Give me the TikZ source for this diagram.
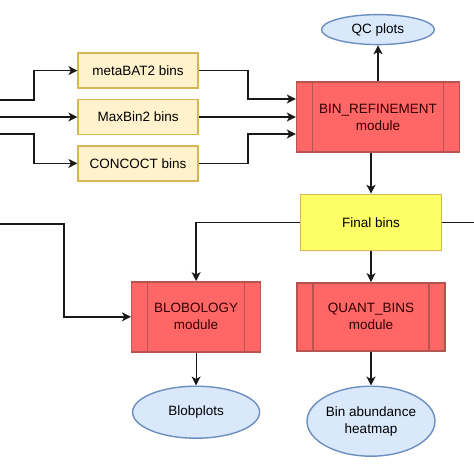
\documentclass[tikz,border=0pt]{standalone}
\usepackage{fontspec}
\setmainfont{Liberation Sans}
\usetikzlibrary{positioning, shapes.geometric, arrows.meta}

\definecolor{binfill}{HTML}{FFF2CC}
\definecolor{binline}{HTML}{D6B656}
\definecolor{modfill}{HTML}{FF6666}
\definecolor{modline}{HTML}{B85450}
\definecolor{finalfill}{HTML}{FFFF66}
\definecolor{plotfill}{HTML}{DAE8FC}
\definecolor{plotline}{HTML}{6C8EBF}

\begin{document}
\begin{tikzpicture}[x=1pt, y=-1pt,
    font=\fontsize{13.5}{17}\selectfont,
    bin/.style={draw=binline, fill=binfill, line width=1.4pt, minimum width=120pt, minimum height=35pt, inner sep=0pt},
    module/.style={draw=modline, fill=modfill, line width=1.4pt, inner sep=0pt, align=center, text=black!80!red,
        path picture={\draw[modline, line width=1.4pt]
            ([xshift=16pt]path picture bounding box.north west) -- ([xshift=16pt]path picture bounding box.south west)
            ([xshift=-16pt]path picture bounding box.north east) -- ([xshift=-16pt]path picture bounding box.south east);}},
    plot/.style={ellipse, draw=plotline, fill=plotfill, line width=1.4pt, inner sep=0pt, align=center},
    flow/.style={draw=black!90, line width=1.4pt, -{Stealth[length=9pt, width=9pt, inset=2.5pt]}},
    wire/.style={draw=black!90, line width=1.4pt}]
    \useasboundingbox (0,0) rectangle (474,474);

    \node[module, minimum width=163pt, minimum height=70pt] (refine) at (378,117) {BIN\_REFINEMENT\\module};
    \node[plot, minimum width=113pt, minimum height=30pt, above=36pt of refine] (qc) {QC plots};
    \node[bin, left=97pt of refine] (maxbin) {MaxBin2 bins};
    \node[bin, above=10pt of maxbin] (metabat) {metaBAT2 bins};
    \node[bin, below=10pt of maxbin] (concoct) {CONCOCT bins};
    \node[draw=binline, fill=finalfill, line width=1.4pt, inner sep=0pt, minimum width=141pt, minimum height=56pt, below=41pt of refine, xshift=-7pt] (final) {Final bins};
    \node[module, minimum width=148pt, minimum height=68pt, below=31pt of final] (quant) {QUANT\_BINS\\module};
    \node[module, minimum width=129pt, minimum height=70pt, left=35pt of quant] (blob) {BLOBOLOGY\\module};
    \node[plot, minimum width=127pt, minimum height=52pt, below=33pt of blob] (blobplots) {Blobplots};
    \node[plot, minimum width=128pt, minimum height=70pt, below=34pt of quant] (heatmap) {Bin abundance\\heatmap};

    \coordinate (in1) at (0,100);
    \coordinate (in2) at (0,117);
    \coordinate (in3) at (0,134);
    \coordinate (in4) at (0,224);
    \coordinate (out) at (474,222);

    \draw[flow] (in1) -- ++(34,0) |- (metabat.west);
    \draw[flow] (in2) -- (maxbin.west);
    \draw[flow] (in3) -- ++(34,0) |- (concoct.west);
    \draw[flow] (metabat.east) -- ++(49,0) |- ([yshift=18pt]refine.west);
    \draw[flow] (maxbin.east) -- (refine.west);
    \draw[flow] (concoct.east) -- ++(49,0) |- ([yshift=-17pt]refine.west);
    \draw[flow] (refine.north) -- (qc.south);
    \draw[flow] (refine.south -| final.north) -- (final.north);
    \draw[flow] (final.west) -| (blob.north);
    \draw[wire] (final.east) -- (final.east -| out);
    \draw[flow] (in4) -- ++(64,0) |- (blob.west);
    \draw[flow] (final.south) -- (quant.north);
    \draw[flow, line width=0.9pt] (blob.south) -- (blobplots.north);
    \draw[flow] (quant.south) -- (heatmap.north);
\end{tikzpicture}
\end{document}
